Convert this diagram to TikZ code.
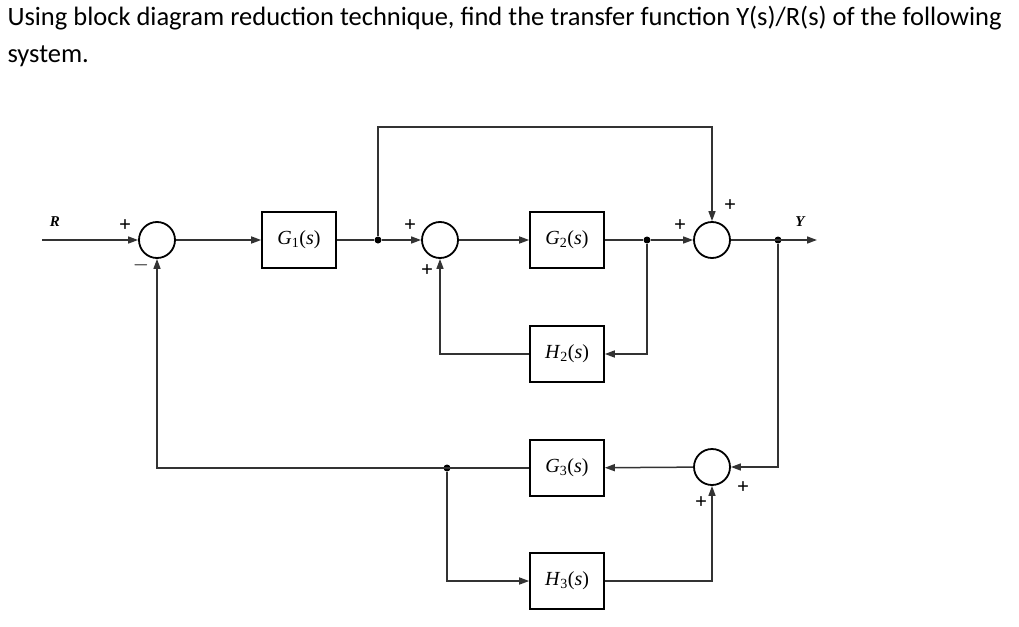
\documentclass[tikz,border=0pt]{standalone}
\usepackage{fontspec}
\setmainfont{Liberation Serif}
\newfontfamily\titlefont{Carlito}
\usetikzlibrary{arrows.meta}
\newcommand{\blab}[2]{\textit{#1}\textsubscript{#2}(\textit{s})}
\begin{document}
\begin{tikzpicture}[x=1pt,y=-1pt,
  blk/.style={draw,line width=1.6pt,minimum width=74pt,minimum height=56pt,inner sep=0,font=\fontsize{20}{20}\selectfont},
  sm/.style={draw,line width=1.8pt,circle,minimum size=36pt,inner sep=0},
  ln/.style={line width=1.5pt,draw=black!80},
  ar/.style={ln,-{Triangle[length=10pt,width=7pt]}},
  dt/.style={circle,fill,inner sep=0,minimum size=7pt},
  sg/.style={font=\fontsize{21}{21}\selectfont\bfseries}]
\useasboundingbox (0,0) rectangle (1019,626);
\node[anchor=west,font=\titlefont\fontsize{26.5}{26.5}\selectfont] (t1) at (4,18) {Using block diagram reduction technique, find the transfer function Y(s)/R(s) of the following};
\node[anchor=west,font=\titlefont\fontsize{26.5}{26.5}\selectfont] (t2) at (4,56) {system.};
\node[font=\itshape\bfseries\fontsize{15}{15}\selectfont] (R) at (55,222) {R};
\node[font=\itshape\bfseries\fontsize{15}{15}\selectfont] (Y) at (800,222) {Y};
\coordinate (in) at (42,240);
\coordinate (out) at (817,240);
\node[sm] (s1) at (157,240) {};
\node[sm] (s2) at (440,240) {};
\node[sm] (s3) at (712,240) {};
\node[sm] (s4) at (712,467) {};
\node[blk] (g1) at (299,240) {\blab{G}{1}};
\node[blk] (g2) at (567,240) {\blab{G}{2}};
\node[blk] (h2) at (567,354) {\blab{H}{2}};
\node[blk] (g3) at (567,468) {\blab{G}{3}};
\node[blk] (h3) at (567,581) {\blab{H}{3}};
\node[dt] (d1) at (378,240) {};
\node[dt] (d2) at (647,240) {};
\node[dt] (d3) at (778,240) {};
\node[dt] (d4) at (447,468) {};
\draw[ar] (in) -- (s1);
\draw[ar] (s1) -- (g1);
\draw[ln] (g1) -- (d1);
\draw[ar] (d1) -- (s2);
\draw[ar] (s2) -- (g2);
\draw[ln] (g2) -- (d2);
\draw[ar] (d2) -- (s3);
\draw[ar] (s3) -- (out);
\draw[ar] (d1) |- (712,127) -- (s3);
\draw[ar] (d2) |- (h2);
\draw[ar] (h2.west) -| (s2.south);
\draw[ar] (d3) |- (s4);
\draw[ar] (s4) -- (g3);
\draw[ar] (g3.west) -| (s1.south);
\draw[ar] (d4) |- (h3);
\draw[ar] (h3.east) -| (s4.south);
\node[sg] at (125,226) {+};
\node[sg] at (141,265) {$-$};
\node[sg] at (410,226) {+};
\node[sg] at (427,271) {+};
\node[sg] at (680,226) {+};
\node[sg] at (730,206) {+};
\node[sg] at (701,503) {+};
\node[sg] at (743,488) {+};
\end{tikzpicture}
\end{document}
